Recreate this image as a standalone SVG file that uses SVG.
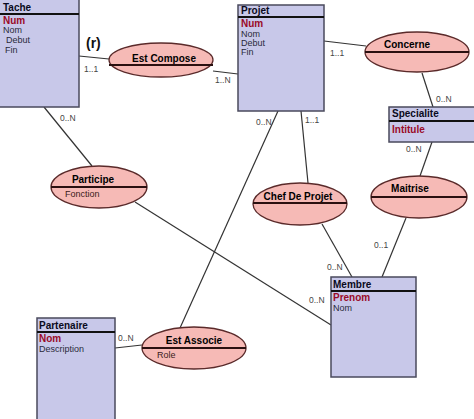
<svg xmlns="http://www.w3.org/2000/svg" width="474" height="419" viewBox="0 0 474 419">
<style>
.box{fill:#c8c8e9;stroke:#4a4a5c;stroke-width:1.5}
.hl{stroke:#111;stroke-width:2}
.ell{fill:#f6bab6;stroke:#5a2a2a;stroke-width:1.3}
.el{stroke:#2a1010;stroke-width:2}
.t{font-family:"Liberation Sans",Arial,sans-serif;font-size:10px;font-weight:bold;fill:#0a0a20}
.k{font-family:"Liberation Sans",Arial,sans-serif;font-size:10px;font-weight:bold;fill:#9a0a28}
.a{font-family:"Liberation Sans",Arial,sans-serif;font-size:9px;fill:#2a2a3a}
.c{font-family:"Liberation Sans",Arial,sans-serif;font-size:8.5px;fill:#444}
.et{font-family:"Liberation Sans",Arial,sans-serif;font-size:10px;font-weight:bold;fill:#000;text-anchor:middle}
.ea{font-family:"Liberation Sans",Arial,sans-serif;font-size:9px;fill:#3a2020}
.ln{stroke:#333;stroke-width:1.2;fill:none}
</style>
<g id="connectors">
<line class="ln" x1="79" y1="56" x2="109" y2="59"/>
<line class="ln" x1="213" y1="71" x2="238" y2="74"/>
<line class="ln" x1="324" y1="41" x2="366" y2="46"/>
<line class="ln" x1="422" y1="73" x2="433" y2="107"/>
<line class="ln" x1="44" y1="107" x2="92" y2="166"/>
<line class="ln" x1="135" y1="202" x2="331" y2="325"/>
<line class="ln" x1="278" y1="111" x2="180" y2="328"/>
<line class="ln" x1="301" y1="111" x2="308" y2="183"/>
<line class="ln" x1="322" y1="224" x2="352" y2="277"/>
<line class="ln" x1="432" y1="142" x2="420" y2="176"/>
<line class="ln" x1="406" y1="218" x2="382" y2="277"/>
<line class="ln" x1="115" y1="348" x2="142" y2="345"/>
<text class="c" x="84" y="72">1..1</text>
<text class="c" x="215" y="83">1..N</text>
<text class="c" x="330" y="56">1..1</text>
<text class="c" x="436" y="102">0..N</text>
<text class="c" x="60" y="121">0..N</text>
<text class="c" x="256" y="125">0..N</text>
<text class="c" x="305" y="123">1..1</text>
<text class="c" x="406" y="152">0..N</text>
<text class="c" x="374" y="248">0..1</text>
<text class="c" x="327" y="270">0..N</text>
<text class="c" x="309" y="303">0..N</text>
<text class="c" x="118" y="341">0..N</text>
<text x="86" y="48" style="font-family:'Liberation Sans',Arial,sans-serif;font-size:14px;font-weight:bold;fill:#111">(r)</text>
</g>
<g id="Tache">
<rect class="box" x="-1" y="-1" width="80" height="108"/>
<line class="hl" x1="-1" y1="14" x2="79" y2="14"/>
<text class="t" x="3" y="11">Tache</text>
<text class="k" x="3" y="24">Num</text>
<text class="a" x="3" y="33">Nom</text>
<text class="a" x="6" y="43">Debut</text>
<text class="a" x="5" y="53">Fin</text>
</g>
<g id="Projet">
<rect class="box" x="238" y="5" width="86" height="106"/>
<line class="hl" x1="238" y1="17" x2="324" y2="17"/>
<text class="t" x="241" y="14">Projet</text>
<text class="k" x="241" y="27">Num</text>
<text class="a" x="241" y="37">Nom</text>
<text class="a" x="241" y="46">Debut</text>
<text class="a" x="241" y="55">Fin</text>
</g>
<g id="Specialite">
<rect class="box" x="389" y="107" width="90" height="35"/>
<line class="hl" x1="389" y1="121" x2="479" y2="121"/>
<text class="t" x="392" y="117">Specialite</text>
<text class="k" x="392" y="133">Intitule</text>
</g>
<g id="Membre">
<rect class="box" x="331" y="277" width="85" height="100"/>
<line class="hl" x1="331" y1="291" x2="416" y2="291"/>
<text class="t" x="333" y="288">Membre</text>
<text class="k" x="333" y="301">Prenom</text>
<text class="a" x="333" y="311">Nom</text>
</g>
<g id="Partenaire">
<rect class="box" x="37" y="318" width="78" height="105"/>
<line class="hl" x1="37" y1="332" x2="115" y2="332"/>
<text class="t" x="39" y="329">Partenaire</text>
<text class="k" x="39" y="342">Nom</text>
<text class="a" x="39" y="352">Description</text>
</g>
<g id="EstCompose">
<ellipse class="ell" cx="161" cy="60" rx="52" ry="17"/>
<line class="el" x1="109" y1="65" x2="213" y2="65"/>
<text class="et" x="164" y="62">Est Compose</text>
</g>
<g id="Concerne">
<ellipse class="ell" cx="417" cy="52" rx="52" ry="20"/>
<line class="el" x1="365" y1="52" x2="469" y2="52"/>
<text class="et" x="407" y="48">Concerne</text>
</g>
<g id="Participe">
<ellipse class="ell" cx="99" cy="187" rx="48" ry="21"/>
<line class="el" x1="51" y1="187" x2="147" y2="187"/>
<text class="et" x="93" y="183">Participe</text>
<text class="ea" x="65" y="197">Fonction</text>
</g>
<g id="ChefDeProjet">
<ellipse class="ell" cx="300" cy="204" rx="47" ry="21"/>
<line class="el" x1="253" y1="203" x2="347" y2="203"/>
<text class="et" x="298" y="200">Chef De Projet</text>
</g>
<g id="Maitrise">
<ellipse class="ell" cx="419" cy="197" rx="48" ry="21"/>
<line class="el" x1="371" y1="197" x2="467" y2="197"/>
<text class="et" x="410" y="192">Maitrise</text>
</g>
<g id="EstAssocie">
<ellipse class="ell" cx="194" cy="348" rx="52" ry="21"/>
<line class="el" x1="142" y1="348" x2="246" y2="348"/>
<text class="et" x="194" y="344">Est Associe</text>
<text class="ea" x="157" y="358">Role</text>
</g>
</svg>
